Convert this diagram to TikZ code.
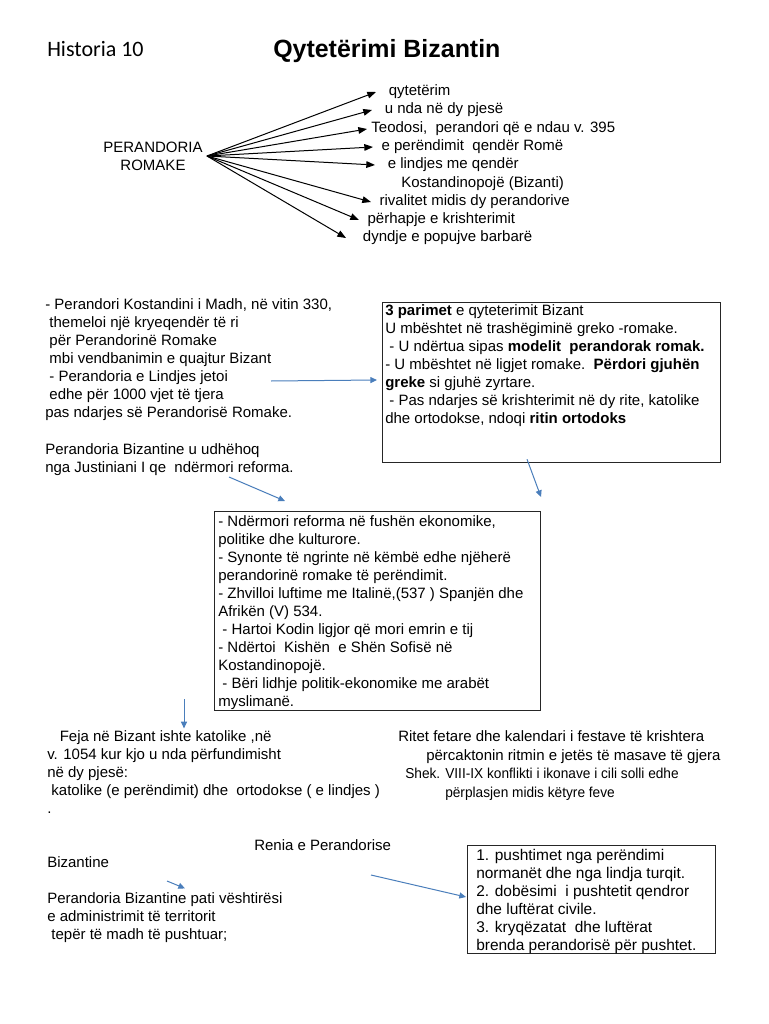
\documentclass[tikz,border=0pt]{standalone}
\usepackage{fontspec}
\setmainfont{Liberation Sans}
\newfontfamily\calibrifont{Carlito}
\newfontfamily\narrowfont[FakeStretch=0.95]{Liberation Sans}
\usetikzlibrary{calc, arrows.meta}
\definecolor{arrowblue}{HTML}{4A7EBB}
\tikzset{
    txt/.style={font=\fontsize{11.25}{13.5}\selectfont, inner sep=0pt},
    block/.style={txt, align=left, anchor=north west},
    panel/.style={draw=black!85, line width=0.9pt, inner sep=0pt, anchor=north west},
    fan/.style={-{Triangle[length=6.5pt,width=5pt]}, line width=0.75pt},
    hint/.style={-{Triangle[length=5pt,width=4.5pt]}, draw=arrowblue, line width=0.75pt},
}
\begin{document}
\begin{tikzpicture}[x=0.75pt, y=-0.75pt]
    \useasboundingbox (0,0) rectangle (768,1024);

    \node[anchor=base west, inner sep=0pt, font=\calibrifont\fontsize{16.5}{20}\selectfont] (course) at (47, 57){Historia 10};
    \node[anchor=base west, inner sep=0pt, font=\bfseries\fontsize{18.7}{22}\selectfont] (title) at (273, 58){Qytetërimi Bizantin};

    \node[txt, align=center] (empire) at (153, 156){PERANDORIA\\ROMAKE};
    \coordinate (hub) at (207, 156);

    \node[txt, anchor=west] (civ) at (376, 92){\ \ \ qytetërim};
    \node[txt, anchor=west] (split) at (372, 110){\ \ \ u nda në dy pjesë};
    \node[txt, anchor=west] (theo) at (367, 129){\ Teodosi,\ \ perandori që e ndau v. 395};
    \node[txt, anchor=west] (west) at (373, 147){\ \ e perëndimit\ \ qendër Romë};
    \node[txt, anchor=west] (east) at (375, 165){\ \ \ e lindjes me qendër};
    \node[txt, anchor=west] (capital) at (401, 183.5){Kostandinopojë (Bizanti)};
    \node[txt, anchor=west] (rival) at (371, 202){\ \ rivalitet midis dy perandorive};
    \node[txt, anchor=west] (faith) at (359, 220){\ \ përhapje e krishterimit};
    \node[txt, anchor=west] (invade) at (346, 238){\ \ \ \ dyndje e popujve barbarë};

    \draw[fan] (hub) -- (civ.west);
    \draw[fan] (hub) -- (split.west);
    \draw[fan] (hub) -- (theo.west);
    \draw[fan] (hub) -- (west.west);
    \draw[fan] (hub) -- (east.west);
    \draw[fan] (hub) -- (rival.west);
    \draw[fan] (hub) -- (faith.west);
    \draw[fan] (hub) -- (invade.west);

    \node[block] (founding) at (45, 296.4){\strut - Perandori Kostandini i Madh, në vitin 330,\\
        \ themeloi një kryeqendër të ri\\
        \ për Perandorinë Romake\\
        \ mbi vendbanimin e quajtur Bizant\\
        \ - Perandoria e Lindjes jetoi\\
        \ edhe për 1000 vjet të tjera\\
        pas ndarjes së Perandorisë Romake.};
    \node[block] (justinian) at (45, 441.4){\strut Perandoria Bizantine u udhëhoq\\
        nga Justiniani I qe\ \ ndërmori reforma.};

    \node[panel, minimum width=253.5pt, minimum height=120pt] (principles) at (382, 302){};
    \node[block] (principlestxt) at (385, 302.4){\strut\textbf{3 parimet} e qyteterimit Bizant\\
        U mbështet në trashëgiminë greko -romake.\\
        \ - U ndërtua sipas \textbf{modelit\ \ perandorak romak.}\\
        - U mbështet në ligjet romake.\ \ \textbf{Përdori gjuhën}\\
        \textbf{greke} si gjuhë zyrtare.\\
        \ - Pas ndarjes së krishterimit në dy rite, katolike\\
        dhe ortodokse, ndoqi \textbf{ritin ortodoks}};

    \coordinate (foundingout) at (271, 381);
    \draw[hint] (foundingout) -- ($(principles.north west)+(-5,78)$);

    \node[panel, minimum width=244.5pt, minimum height=149pt] (reform) at (214, 511){};
    \node[block] (reformtxt) at (218, 513.4){\strut - Ndërmori reforma në fushën ekonomike,\\
        politike dhe kulturore.\\
        - Synonte të ngrinte në këmbë edhe njëherë\\
        perandorinë romake të perëndimit.\\
        - Zhvilloi luftime me Italinë,(537 ) Spanjën dhe\\
        Afrikën (V) 534.\\
        \ - Hartoi Kodin ligjor që mori emrin e tij\\
        - Ndërtoi\ \ Kishën\ \ e Shën Sofisë në\\
        Kostandinopojë.\\
        \ - Bëri lidhje politik-ekonomike me arabët\\
        myslimanë.};

    \coordinate (justinianout) at (229, 477);
    \draw[hint] (justinianout) -- ($(reform.north west)+(71,-10)$);
    \coordinate (principlesout) at (541, 497);
    \draw[hint] ($(principles.south west)+(145,-4)$) -- (principlesout);

    \node[block] (schism) at (47, 728.4){\strut\ \ \ Feja në Bizant ishte katolike ,në\\
        v. 1054 kur kjo u nda përfundimisht\\
        në dy pjesë:\\
        \ katolike (e perëndimit) dhe\ \ ortodokse ( e lindjes )\\
        .};
    \coordinate (reformout) at (184, 699);
    \draw[hint] (reformout) -- (reformout |- schism.north);

    \node[txt, anchor=base west] (rites) at (398, 741){Ritet fetare dhe kalendari i festave të krishtera};
    \node[txt, anchor=base west] (rhythm) at (426, 760){përcaktonin ritmin e jetës të masave të gjera};
    \node[txt, anchor=base west, font=\narrowfont\fontsize{10.8}{13.5}\selectfont] (icons) at (405, 778){Shek. VIII-IX konflikti i ikonave i cili solli edhe};
    \node[txt, anchor=base west, font=\narrowfont\fontsize{10.8}{13.5}\selectfont] (clash) at (445, 797){përplasjen midis këtyre feve};

    \node[txt, anchor=base west] (fall) at (254, 850){Renia e Perandorise};
    \node[txt, anchor=base west] (fallb) at (47, 867){Bizantine};
    \node[block] (burden) at (47, 890.4){\strut Perandoria Bizantine pati vështirësi\\
        e administrimit të territorit\\
        \ tepër të madh të pushtuar;};
    \coordinate (fallout) at (167, 881);
    \draw[hint] (fallout) -- ($(burden.north west)+(138,-2)$);

    \node[panel, minimum width=186pt, minimum height=81pt] (decline) at (467, 845){};
    \node[block, font=\fontsize{11.6}{13.5}\selectfont] (declinetxt) at (476, 847.4){\strut 1. pushtimet nga perëndimi\\
        normanët dhe nga lindja turqit.\\
        2. dobësimi\ \ i pushtetit qendror\\
        dhe luftërat civile.\\
        3. kryqëzatat\ \ dhe luftërat\\
        brenda perandorisë për pushtet.};
    \coordinate (burdenout) at (371, 875);
    \draw[hint] (burdenout) -- ($(decline.north west)+(-1,52)$);
\end{tikzpicture}
\end{document}
